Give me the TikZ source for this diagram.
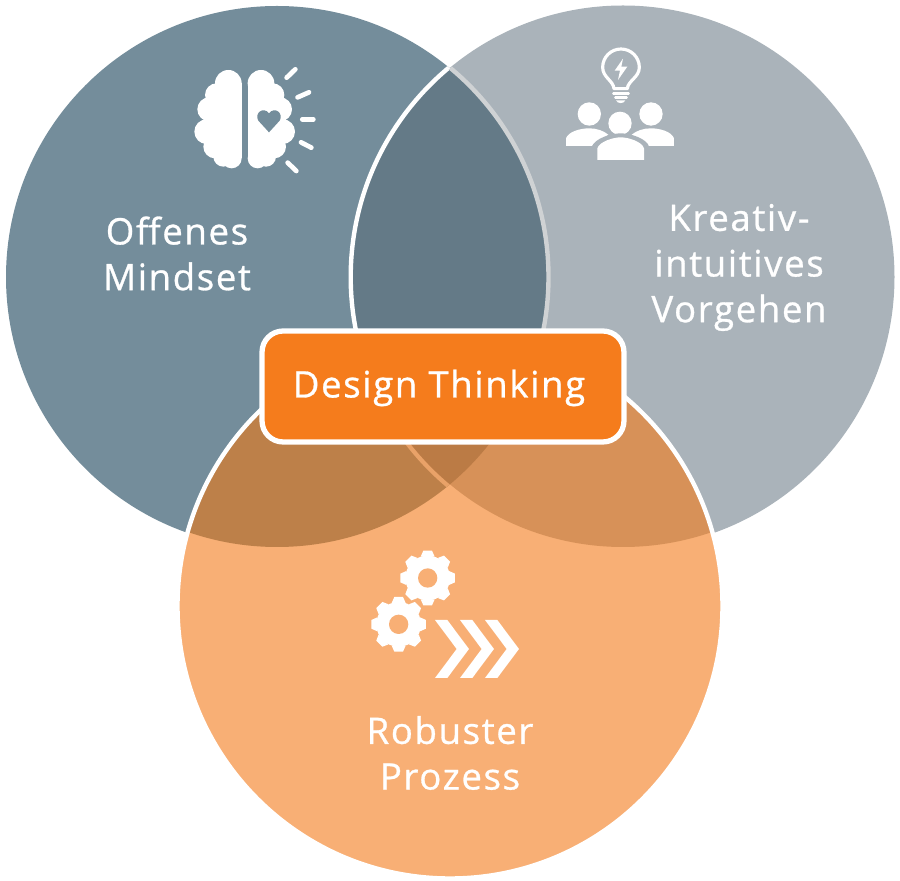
\documentclass[tikz,border=0pt]{standalone}
\usepackage{fontspec}
\setmainfont{Open Sans}[LetterSpace=4.5, FakeBold=0.8]
\definecolor{leftblue}{HTML}{748D9B}
\definecolor{rightgrey}{HTML}{AAB3BA}
\definecolor{lrblue}{HTML}{647A87}
\definecolor{botorange}{HTML}{F8AF75}
\definecolor{blorange}{HTML}{BD8049}
\definecolor{brorange}{HTML}{D79158}
\definecolor{midorange}{HTML}{BB7B45}
\definecolor{boxorange}{HTML}{F57C1C}
\definecolor{archgrey}{HTML}{CFD2D4}
\definecolor{archpeach}{HTML}{E9A268}
\tikzset{
    ringline/.style={draw=white, line width=2.5pt},
    labeltext/.style={text=white, align=center, font=\fontsize{20.8}{26}\selectfont},
    iconline/.style={draw=white, line cap=round, line width=2.7pt},
    zoomed/.style={x=0.00667cm, y=-0.00667cm}
}
\newcommand{\gearicon}[2]{
    \foreach \ang in {0,45,...,315} {
        \fill[white, shift={#1}, rotate=\ang] (-21,64) -- (-13,82) -- (13,82) -- (21,64) -- cycle;
    }
    \fill[white] #1 circle (67);
    \fill[#2] #1 circle (29);
}
\begin{document}
\begin{tikzpicture}[x=0.02cm, y=-0.02cm]
    \useasboundingbox (0,0) rectangle (900,881);
    \coordinate (leftc) at (277,277);
    \coordinate (rightc) at (623,277);
    \coordinate (botc) at (450,606);

    \fill[leftblue] (leftc) circle (271);
    \fill[rightgrey] (rightc) circle (271.5);
    \begin{scope}
        \clip (leftc) circle (271);
        \fill[lrblue] (rightc) circle (271.5);
        \draw[ringline] (rightc) circle (272.3);
    \end{scope}
    \begin{scope}
        \clip (rightc) circle (271);
        \draw[ringline, draw=archgrey] (leftc) circle (271.5);
    \end{scope}

    \fill[botorange] (botc) circle (271);
    \begin{scope}
        \clip (botc) circle (271);
        \begin{scope}
            \clip (leftc) circle (270);
            \fill[blorange] (botc) circle (271);
            \draw[ringline, draw=archpeach] (rightc) circle (272.3);
        \end{scope}
        \begin{scope}
            \clip (rightc) circle (270);
            \fill[brorange] (botc) circle (271);
        \end{scope}
        \begin{scope}
            \clip (leftc) circle (270);
            \clip (rightc) circle (270);
            \fill[midorange] (botc) circle (271);
        \end{scope}
    \end{scope}
    \draw[ringline] (botc) circle (272.5);

    \node[draw=white, line width=3pt, fill=boxorange, rounded corners=12pt, minimum width=7.24cm, minimum height=2.22cm] (thinking) at (443,386.5) {};
    \node[labeltext] (thinkingtext) at (439,388) {Design Thinking};

    \node[labeltext] (mindset) at (177,253.5) {Offenes\\Mindset};
    \node[labeltext] (kreativ) at (739,267.5) {Kreativ-\\intuitives\\Vorgehen};
    \node[labeltext] (prozess) at (450,753) {Robuster\\Prozess};

    % brain
    \begin{scope}[shift={(170,50)}, zoomed]
        \foreach \mir in {1,-1} {
            \begin{scope}[shift={(224,0)}, xscale=\mir]
                \fill[white] (49,100) circle (40) (84,135) circle (35) (106,178) circle (36)
                    (114,245) circle (37) (89,290) circle (35) (64,320) circle (30) (39,325) circle (30);
                \fill[white] (9,100) rectangle (70,325);
                \fill[white] (60,125) rectangle (105,290);
            \end{scope}
        }
        \fill[leftblue] (297,247) -- (265,212) .. controls (252,190) and (280,168) .. (297,190)
            .. controls (314,168) and (342,190) .. (329,212) -- cycle;
        \draw[iconline] (350,83) -- (376,58);
        \draw[iconline] (383,142) -- (417,127);
        \draw[iconline] (397,208) -- (430,208);
        \draw[iconline] (393,277) -- (424,293);
        \draw[iconline] (353,338) -- (379,363);
    \end{scope}

    % lamp and team
    \begin{scope}[shift={(550,40)}, zoomed]
        \draw[draw=white, line width=1.8pt, line join=round] (192,146) .. controls (190,122) and (158,112) .. (158,82)
            arc[start angle=180, end angle=360, radius=55] .. controls (268,112) and (234,122) .. (232,146) -- cycle;
        \fill[white] (219,56) -- (194,92) -- (210,92) -- (204,120) -- (232,80) -- (214,80) -- cycle;
        \draw[iconline, line width=1.4pt] (190,160) -- (236,160);
        \draw[iconline, line width=1.4pt] (196,172) -- (230,172);
        \fill[white] (198,181) -- (226,181) .. controls (222,192) and (202,192) .. (198,181) -- cycle;
        \fill[white] (118,222) circle (35) (303,222) circle (35) (210,250) circle (35);
        \fill[white] (48,318) -- (48,295) .. controls (55,275) and (90,265) .. (118,265)
            .. controls (140,265) and (160,272) .. (175,284) -- (125,318) -- cycle;
        \fill[white] (372,318) -- (372,295) .. controls (365,275) and (330,265) .. (303,265)
            .. controls (280,265) and (260,272) .. (245,284) -- (295,318) -- cycle;
        \fill[rightgrey] (125,365) -- (125,322) .. controls (132,295) and (185,280) .. (212,280)
            .. controls (240,280) and (292,295) .. (298,322) -- (298,365) -- cycle;
        \fill[white] (142,360) -- (142,325) .. controls (148,305) and (190,292) .. (212,292)
            .. controls (235,292) and (276,305) .. (282,325) -- (282,360) -- cycle;
    \end{scope}

    % gears and chevrons
    \begin{scope}[shift={(360,540)}, zoomed]
        \gearicon{(203,114)}{botorange}
        \gearicon{(116,253)}{botorange}
        \foreach \dx in {0,75,150} {
            \fill[white, shift={(\dx,0)}] (225,240) -- (262,240) -- (327,327) -- (262,414) -- (225,414) -- (290,327) -- cycle;
        }
    \end{scope}
\end{tikzpicture}
\end{document}
